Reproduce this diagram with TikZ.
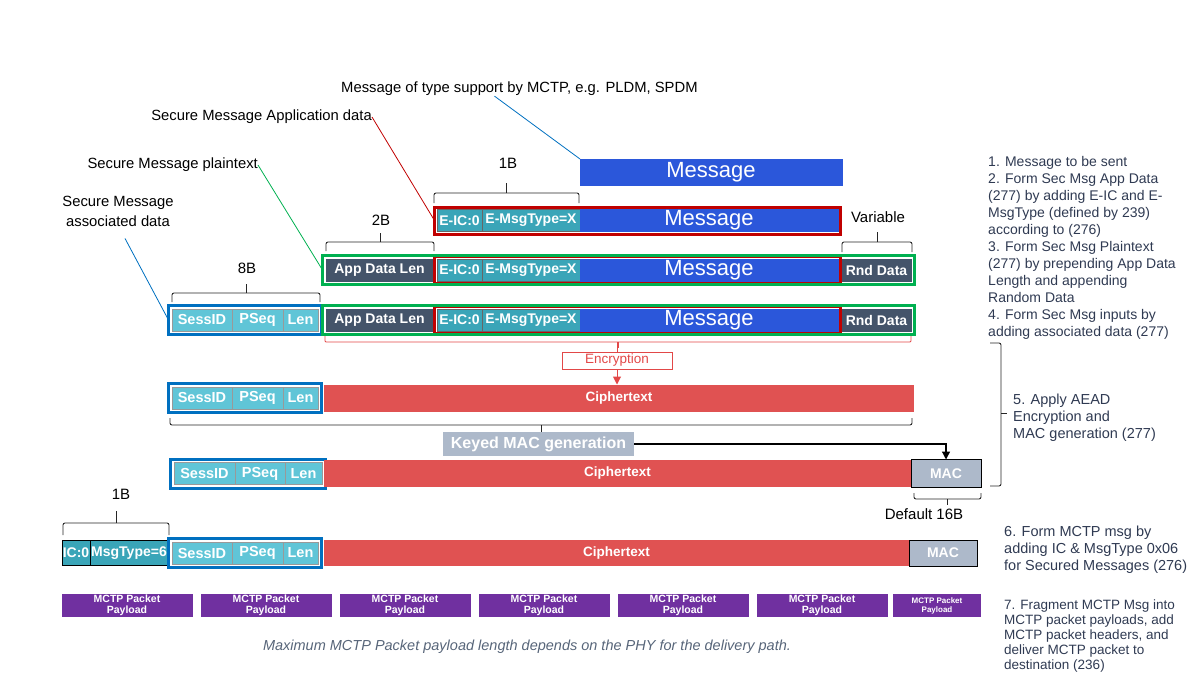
\documentclass[tikz,border=0pt]{standalone}
\usepackage{fontspec}
\setmainfont{Liberation Sans}
\usetikzlibrary{positioning, fit, calc, arrows.meta}

\definecolor{msgblue}{RGB}{43,87,218}
\definecolor{eicteal}{RGB}{58,165,184}
\definecolor{sessteal}{RGB}{96,197,215}
\definecolor{frameblue}{RGB}{0,112,192}
\definecolor{framered}{RGB}{192,0,0}
\definecolor{framegreen}{RGB}{0,176,80}
\definecolor{slate}{RGB}{68,84,106}
\definecolor{cipherred}{RGB}{224,82,82}
\definecolor{encred}{RGB}{226,72,72}
\definecolor{macgray}{RGB}{173,185,202}
\definecolor{pktpurple}{RGB}{112,48,160}
\definecolor{notetext}{RGB}{47,58,82}

\tikzset{
    >={Triangle[length=8pt,width=8pt]}, % filled arrow heads
    cell/.style={draw=black!60, line width=0.5pt, minimum height=22pt, inner sep=0pt, outer sep=0pt,
        text=white, font=\fontsize{14}{14}\selectfont\bfseries}, % one field of a message
    eic/.style={cell, fill=eicteal},
    sess/.style={cell, fill=sessteal, draw=black!40, font=\fontsize{14.5}{14.5}\selectfont\bfseries},
    hdr/.style={cell, fill=slate, draw=slate},
    msg/.style={cell, fill=msgblue, draw=msgblue, font=\fontsize{22}{22}\selectfont},
    cipher/.style={cell, fill=cipherred, draw=none, minimum height=27pt, font=\fontsize{13.5}{13.5}\selectfont\bfseries},
    mac/.style={cell, fill=macgray, draw=black, line width=0.8pt, minimum height=28pt},
    keyed/.style={cell, fill=macgray, draw=none, minimum height=24pt, minimum width=191pt, font=\fontsize{16}{16}\selectfont\bfseries},
    pkt/.style={fill=pktpurple, text=white, minimum width=131pt, minimum height=23pt, inner sep=0pt,
        align=center, font=\fontsize{10.5}{11}\selectfont\bfseries}, % one packet payload
    fieldframe/.style={draw=#1, line width=3pt, inner sep=2.5pt, outer sep=0pt}, % thick box round a group
    lbl/.style={font=\fontsize{14.8}{20}\selectfont, inner sep=0pt},
    bytes/.style={font=\fontsize{15}{15}\selectfont, inner sep=0pt},
    note/.style={font=\fontsize{14}{17}\selectfont, text=notetext, align=left, anchor=north west, inner sep=0pt},
    bkt/.style={draw=black!85, line width=0.9pt, rounded corners=2pt},
    encbkt/.style={draw=encred, line width=0.9pt, rounded corners=1pt},
    pointer/.style={line width=0.8pt},
}

% bracket between two points, #4 = height of the bar (negative = up)
\newcommand{\bytebrace}[4][bkt]{%
    \draw[#1] (#2) -- ++(0,#4) -| (#3);
    \draw[#1] ($(#2)!.5!(#3)$) ++(0,#4) -- ++(0,#4);
}

\begin{document}
\begin{tikzpicture}[x=1pt, y=-1pt]
    \useasboundingbox (0,0) rectangle (1198,696);

    % labels
    \node[lbl, anchor=west] (typelbl) at (341,89) {Message of type support by MCTP, e.g. PLDM, SPDM};
    \node[lbl, anchor=east] (applbl) at (372,117) {Secure Message Application data};
    \node[lbl, anchor=east] (ptlbl) at (258,165) {Secure Message plaintext};
    \node[lbl, align=center] (adlbl) at (118,211) {Secure Message\\associated data};

    % 1. message
    \node[msg, anchor=west, minimum width=262pt, minimum height=26pt] (msg0) at (580,172) {Message};

    % 2. application data
    \node[eic, anchor=west, minimum width=45pt] (eic1) at (437,220.5) {E-IC:0};
    \node[eic, right=0pt of eic1, minimum width=98pt] (mt1) {E-MsgType=X};
    \node[msg, right=0pt of mt1, minimum width=258pt] (msg1) {Message};
    \node[fieldframe=framered, fit=(eic1)(msg1)] (app1) {};

    % 3. plaintext
    \node[hdr, anchor=west, minimum width=107pt] (len2) at (326,270) {App Data Len};
    \node[eic, right=4pt of len2, minimum width=45pt] (eic2) {E-IC:0};
    \node[eic, right=0pt of eic2, minimum width=98pt] (mt2) {E-MsgType=X};
    \node[msg, right=0pt of mt2, minimum width=258pt] (msg2) {Message};
    \node[hdr, right=4pt of msg2, minimum width=69pt] (rnd2) {Rnd Data};
    \node[fieldframe=framered, fit=(eic2)(msg2)] (app2) {};
    \node[fieldframe=framegreen, inner sep=3.5pt, fit=(len2)(rnd2)] (pt2) {};

    % 4. associated data in front
    \node[sess, anchor=west, minimum width=60pt] (sid3) at (172,320) {SessID};
    \node[sess, right=0pt of sid3, minimum width=51pt] (pseq3) {PSeq};
    \node[sess, right=0pt of pseq3, minimum width=35pt] (slen3) {Len};
    \node[fieldframe=frameblue, inner sep=3.5pt, fit=(sid3)(slen3)] (ad3) {};
    \node[hdr, right=8pt of slen3, minimum width=107pt] (len3) {App Data Len};
    \node[eic, right=4pt of len3, minimum width=45pt] (eic3) {E-IC:0};
    \node[eic, right=0pt of eic3, minimum width=98pt] (mt3) {E-MsgType=X};
    \node[msg, right=0pt of mt3, minimum width=258pt] (msg3) {Message};
    \node[hdr, right=4pt of msg3, minimum width=69pt] (rnd3) {Rnd Data};
    \node[fieldframe=framered, fit=(eic3)(msg3)] (app3) {};
    \node[fieldframe=framegreen, inner sep=3.5pt, fit=(len3)(rnd3)] (pt3) {};

    % byte counts
    \bytebrace{434,203}{579,203}{-10}
    \node[bytes] (b1) at (508,163) {1B};
    \bytebrace{326,251}{434,251}{-9}
    \node[bytes] (b2) at (381,220) {2B};
    \bytebrace{842,252}{912,252}{-10}
    \node[bytes] (bvar) at (878,217) {Variable};
    \bytebrace{172,302}{320,302}{-9}
    \node[bytes] (b8) at (247,268) {8B};

    % 5. encryption
    \bytebrace[encbkt]{325,336}{911,336}{6}
    \node[draw=encred, line width=0.8pt, text=encred, minimum width=110pt, minimum height=17pt, inner sep=0pt,
        font=\fontsize{13.5}{13.5}\selectfont] (enc) at (617,360.5) {Encryption};
    \draw[encbkt] (enc.north) -- ++(0,-10);

    \node[sess, anchor=west, minimum width=60pt] (sid4) at (172,398) {SessID};
    \node[sess, right=0pt of sid4, minimum width=51pt] (pseq4) {PSeq};
    \node[sess, right=0pt of pseq4, minimum width=35pt] (slen4) {Len};
    \node[fieldframe=frameblue, inner sep=3.5pt, fit=(sid4)(slen4)] (ad4) {};
    \node[cipher, right=6pt of slen4, minimum width=590pt] (cipher4) {Ciphertext};
    \draw[encred, line width=1pt, ->] (enc.south) -- (enc.south |- cipher4.north);

    % MAC
    \bytebrace{170,418}{912,418}{7}
    \node[keyed] (kmac) at (538.5,444) {Keyed MAC generation};

    \node[sess, anchor=west, minimum width=61pt] (sid5) at (174,473.5) {SessID};
    \node[sess, right=0pt of sid5, minimum width=50pt] (pseq5) {PSeq};
    \node[sess, right=0pt of pseq5, minimum width=37pt] (slen5) {Len};
    \node[fieldframe=frameblue, inner sep=3.5pt, fit=(sid5)(slen5)] (ad5) {};
    \node[cipher, right=2pt of slen5, minimum width=587pt] (cipher5) {Ciphertext};
    \node[mac, right=0pt of cipher5, minimum width=70pt] (mac5) {MAC};
    \draw[line width=1.3pt, ->] (kmac.east) -| (mac5.north);

    \bytebrace{914,493}{981,493}{6}
    \node[bytes] (b16) at (924,514) {Default 16B};

    % 6. MCTP message
    \node[eic, anchor=west, minimum width=28pt, minimum height=25pt, draw=black] (ic6) at (62,553) {IC:0};
    \node[eic, right=0pt of ic6, minimum width=78pt, minimum height=25pt, draw=black] (mt6) {MsgType=6};
    \node[sess, right=4pt of mt6, minimum width=60pt] (sid6) {SessID};
    \node[sess, right=0pt of sid6, minimum width=51pt] (pseq6) {PSeq};
    \node[sess, right=0pt of pseq6, minimum width=35pt] (slen6) {Len};
    \node[fieldframe=frameblue, inner sep=3.5pt, fit=(sid6)(slen6)] (ad6) {};
    \node[cipher, right=6pt of slen6, minimum width=585pt, minimum height=26pt] (cipher6) {Ciphertext};
    \node[mac, right=0pt of cipher6, minimum width=68pt, minimum height=26pt] (mac6) {MAC};

    \bytebrace{63,535}{169,535}{-12}
    \node[bytes] (b1b) at (121,494) {1B};

    % 7. packet payloads
    \foreach \i in {0,...,5}
        \node[pkt] (pkt\i) at (127+139*\i,605.5) {MCTP Packet\\Payload};
    \node[pkt, minimum width=88pt, font=\fontsize{8}{9}\selectfont\bfseries] (pkt6) at (937,605.5) {MCTP Packet\\Payload};

    \node[font=\fontsize{14.5}{14.5}\selectfont\itshape, text=slate!90, inner sep=0pt] (caption) at (527,647)
        {Maximum MCTP Packet payload length depends on the PHY for the delivery path.};

    % pointers from the labels
    \draw[pointer, frameblue] ($(typelbl.south west)!.43!(typelbl.south east)$) -- (msg0.north west);
    \draw[pointer, framered] (applbl.east) -- (app1.west);
    \draw[pointer, framegreen] (ptlbl.east) -- (pt2.west);
    \draw[pointer, frameblue] ([xshift=7pt,yshift=-12pt]adlbl.south) -- (ad3.west);

    % steps
    \node[note] (step14) at (988,156) {1. Message to be sent\\2. Form Sec Msg App Data\\(277) by adding E-IC and E-\\MsgType (defined by 239)\\according to (276)\\3. Form Sec Msg Plaintext\\(277) by prepending App Data\\Length and appending\\Random Data\\4. Form Sec Msg inputs by\\adding associated data (277)};
    \draw[bkt] (990,343) -- (1001,343) -- (1001,486) -- (990,486);
    \draw[bkt] (1001,413) -- (1007,413);
    \node[note, font=\fontsize{14.5}{17}\selectfont] (step5) at (1013,394) {5. Apply AEAD\\Encryption and\\MAC generation (277)};
    \node[note, font=\fontsize{14.5}{17}\selectfont] (step6) at (1004,526) {6. Form MCTP msg by\\adding IC \& MsgType 0x06\\for Secured Messages (276)};
    \node[note, font=\fontsize{13.5}{14.8}\selectfont] (step7) at (1004,600) {7. Fragment MCTP Msg into\\MCTP packet payloads, add\\MCTP packet headers, and\\deliver MCTP packet to\\destination (236)};
\end{tikzpicture}
\end{document}
